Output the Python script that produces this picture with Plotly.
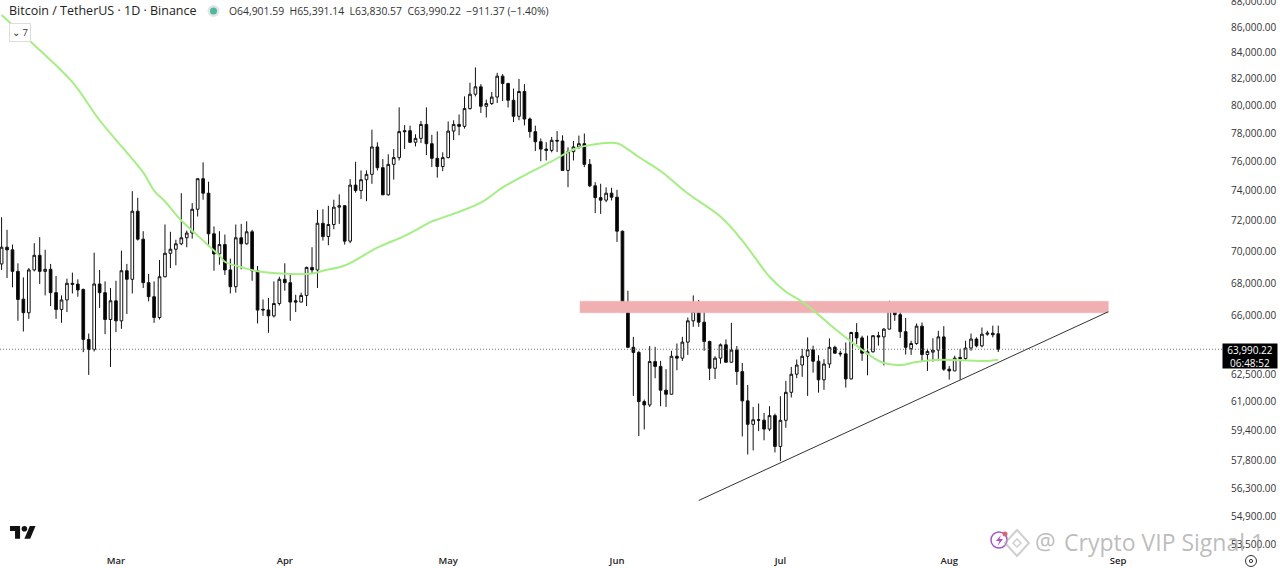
import math
import pandas as pd
import plotly.graph_objects as go

start_day = "2026-02-08"
opens = [
 69200,70270,70100,68730,67000,66170,68820,69750,68730,68860,
 67400,66370,66950,67980,67930,67600,64570,63980,67940,67400,
 65760,66900,65680,68770,68230,72630,70790,68020,67150,65880,
 68390,69880,70140,70490,70880,71190,72760,74830,73840,71140,
 69840,70440,68820,67770,70880,70490,71270,68770,66380,66340,
 65980,66730,68230,68020,66900,66820,67230,68980,68820,71830,
 70960,71750,72900,73000,70660,74390,74020,74760,75130,77040,
 75590,73730,75820,76290,78200,78200,77370,77650,78650,77270,
 76240,75670,76290,78170,78650,78510,79800,80860,81410,79970,
 80170,80650,82210,81660,80410,79240,81060,79040,78130,77410,
 76890,76800,77510,77460,75400,76710,77040,77270,75820,74340,
 73540,73370,73840,73570,71310,66660,64100,63800,60990,60800,
 63270,62990,61630,61400,63580,63470,64410,65680,66250,65600,
 64450,62880,63470,64250,63230,63940,62690,61030,59730,59980,
 59960,59470,60210,58530,59950,61510,62540,63070,63580,63960,
 63290,62220,63130,64100,63760,63720,62270,64980,64660,63720,
 63840,64790,64720,65180,66530,66050,65030,64020,64330,65360,
 63680,63820,63940,64720,62830,62730,63510,63450,64060,64590,
 64190,64880,64940,64901.59]
highs = [
 72230,71400,70440,69240,68350,68940,70530,70920,70100,69200,
 68440,67230,68270,68650,68230,67650,64920,69920,68820,68100,
 67690,68140,70050,69200,73980,73530,71310,68560,68100,69450,
 71750,71270,70750,73840,71350,73170,74830,75960,74620,71620,
 71310,71090,69540,71750,71790,71960,71400,69070,66980,67070,
 68100,68390,69240,68600,67270,67400,69030,70270,72720,72760,
 72990,73400,73760,73010,74800,76000,75400,75400,78270,77370,
 76190,76520,76890,79890,78600,78560,77940,78900,79890,77900,
 78150,76660,78860,78950,79370,80700,81710,82870,81610,80460,
 81030,82460,82360,81710,81280,82000,81610,79150,78560,77640,
 77380,77750,78170,77870,77010,77460,77850,78000,76190,74590,
 74480,74240,74210,74070,71350,67520,64720,63900,61100,64180,
 64130,63310,62830,63900,64330,64720,65880,67230,66950,66370,
 64490,63580,64330,64570,65560,64180,63190,61930,60690,60880,
 60360,60730,60320,61290,62160,62960,63390,64010,64690,64200,
 63640,63410,64630,64200,63900,64390,65020,65540,64790,64790,
 64800,65020,65250,66900,66700,66290,65850,64490,65520,65580,
 64010,64640,65080,65360,63020,63610,64010,64490,64920,64690,
 65280,65080,65390,65391.14]
lows = [
 68820,68310,67730,65680,65040,65800,68730,67940,67230,66580,
 65800,65560,66210,67350,67150,63820,62500,63860,66460,64880,
 62960,65000,65200,66090,67350,70700,67690,66860,65560,65760,
 68350,68940,69110,70400,70270,70830,72280,73400,70400,68770,
 69150,68510,67350,67400,68860,70440,68140,65520,65980,64960,
 65880,66610,67520,65680,66210,66800,66580,68560,67690,70700,
 70400,71440,71790,70440,70530,73880,73440,73300,74480,75400,
 73730,73680,74760,76090,76890,77320,77080,77320,76470,75630,
 74900,75350,76240,77520,77870,78350,79730,80700,79480,79150,
 80070,80210,80360,79880,78820,78950,78580,77700,76750,76040,
 76090,76660,76680,75400,74250,76090,76890,75630,74250,72500,
 72450,73230,73350,70610,66190,64090,61310,59090,59450,60690,
 62310,60730,60690,61390,62770,63310,63660,65320,65320,63900,
 62200,62270,63150,63230,63200,61930,59070,58100,58320,59360,
 58860,59360,58210,57750,59540,61220,62310,62390,61310,62630,
 61490,61650,62900,63730,63560,61780,62250,64290,63310,62480,
 63800,64200,63050,65170,65680,64660,63680,63660,64250,63310,
 62730,63270,63310,62730,62230,62730,62230,63310,63900,64100,
 64100,64790,64690,63830.57]
closes = [
 70270,70100,68730,66980,66170,68820,69750,68730,68860,67400,
 66370,66950,67980,67920,67570,64570,63980,67940,67400,65760,
 66900,65680,68770,68230,72630,70790,68020,67150,65880,68390,
 69880,70140,70490,70880,71190,72760,74830,73840,71140,69840,
 70440,68820,67770,70880,70490,71270,68770,66330,66340,65980,
 66730,68230,68020,66820,66820,67230,68980,68820,71830,70960,
 71750,72900,73000,70660,74390,74020,74760,75130,77040,75590,
 73730,75820,76290,78130,78130,77370,77650,78650,77270,76240,
 75670,76290,78170,78650,78510,79800,80860,81410,79970,80170,
 80650,82210,81660,80410,79240,81060,79040,78130,77410,76890,
 76800,77510,77460,75400,76710,77040,77270,75820,74340,73540,
 73370,73840,73570,71310,66660,64100,63800,60990,60800,63270,
 62990,61630,61400,63580,63470,64410,65680,66250,65600,64450,
 62880,63470,64250,63230,63940,62690,61030,59730,59980,59960,
 59470,60210,58530,59950,61510,62540,63070,63580,63960,63290,
 62220,63130,64100,63760,63720,62270,64980,64660,63760,63840,
 64790,64720,65180,66530,66050,65030,64100,64330,65360,63680,
 63860,63940,64720,62830,62730,63470,63450,64060,64590,64190,
 64880,64940,64850,63990.22]

ema_day_index = [0,5,13,18,26,28,30,33,36,40,41,44,47,52,57,59,63,69,74,79,80,88,92,97,101,105,108,
                 113,115,117,121,126,132,136,141,144,147,150,153,156,157,160,162,165,168,172,176,181,183]
ema_values = [86950,84980,81760,78950,75260,74020,73280,72010,71020,69730,69340,69000,68740,68580,68590,
              68770,69100,70240,71000,71950,72080,73210,74230,75260,76020,76870,77170,77300,76870,76330,
              75360,73820,72270,70700,68390,67460,66840,66050,65200,64430,64200,63510,63190,63070,63250,
              63370,63340,63310,63370]

last_price = 63990.22
band_dates = ["2026-05-25 05:00", "2026-08-30 05:00"]
band_prices = [66170, 66870]
trend_dates = ["2026-06-16", "2026-08-30 05:00"]
trend_prices = [55700, 66230]
price_ticks = [88000,86000,84000,82000,80000,78000,76000,74000,72000,70000,68000,66000,
               62500,61000,59400,57800,56300,54900,53500]
month_ticks = ["2026-03-01","2026-04-01","2026-05-01","2026-06-01","2026-07-01","2026-08-01","2026-09-01"]
month_labels = ["Mar","Apr","May","Jun","Jul","Aug","Sep"]
x_range = ["2026-02-07 17:00", "2026-09-20 02:00"]
y_range = [53470, 88160]

W, H, R, B = 1280, 568, 58, 23
PW, PH = W - R, H - B
FONT = "Open Sans"
px = lambda v: v / PW
py = lambda v: (PH - v) / PH

dates = pd.date_range(start_day, periods=len(opens))
ema_dates = [dates[i] for i in ema_day_index]

fig = go.Figure()
fig.add_trace(go.Scatter(x=[band_dates[0], band_dates[1], band_dates[1], band_dates[0], band_dates[0]],
                         y=[band_prices[0], band_prices[0], band_prices[1], band_prices[1], band_prices[0]],
                         mode="lines", fill="toself", fillcolor="#F0B0B2", line=dict(color="#F0B0B2", width=0.5)))
fig.add_trace(go.Scatter(x=x_range, y=[last_price, last_price], mode="lines",
                         line=dict(color="#777777", width=1, dash="1px 2px")))
fig.add_trace(go.Candlestick(x=dates, open=opens, high=highs, low=lows, close=closes, whiskerwidth=0,
                             increasing=dict(fillcolor="#FFFFFF", line=dict(color="#111111", width=1)),
                             decreasing=dict(fillcolor="#000000", line=dict(color="#111111", width=1))))
fig.add_trace(go.Scatter(x=ema_dates, y=ema_values, mode="lines",
                         line=dict(color="#A4EE84", width=2, shape="spline", smoothing=1.0)))
fig.add_trace(go.Scatter(x=trend_dates, y=trend_prices, mode="lines", line=dict(color="#333333", width=1)))

def note(x, y, text, size=10, color="#333333", xanchor="left", family=FONT, **kw):
    fig.add_annotation(xref="paper", yref="paper", x=px(x), y=py(y), text=text, showarrow=False,
                       xanchor=xanchor, yanchor="middle", font=dict(family=family, size=size, color=color), **kw)

note(7, 11, "Bitcoin / TetherUS · 1D · Binance", size=12.5, color="#222222")
note(227, 11, "O64,901.59  H65,391.14  L63,830.57  C63,990.22  −911.37 (−1.40%)", size=10.4, color="#333333")
note(9, 32, "⌄ 7", size=9.5, color="#333333", bordercolor="#DDDDDD", borderwidth=1, borderpad=2, bgcolor="#FFFFFF")
note(1222, 355.5, "63,990.22<br>06:48:52", size=10, color="#FFFFFF", bgcolor="#000000", width=54, height=24,
     borderpad=0, align="center")
note(1062, 542, "Crypto VIP Signal 1", size=23, color="rgba(150,150,150,0.65)")
note(1033, 541, "@", size=23, color="rgba(150,150,150,0.65)")

def circle(cx, cy, r, fill="rgba(0,0,0,0)", line="rgba(0,0,0,0)", width=1):
    fig.add_shape(type="circle", xref="paper", yref="paper", x0=px(cx - r), x1=px(cx + r),
                  y0=py(cy + r), y1=py(cy - r), fillcolor=fill, line=dict(color=line, width=width))

def path(points, fill="rgba(0,0,0,0)", line="rgba(0,0,0,0)", width=1, closed=True):
    d = "M" + " L".join(f"{px(a):.5f},{py(b):.5f}" for a, b in points) + (" Z" if closed else "")
    fig.add_shape(type="path", xref="paper", yref="paper", path=d, fillcolor=fill, line=dict(color=line, width=width))

circle(213.5, 11, 6, fill="#E2E4E6")
circle(213.5, 11, 3.5, fill="#4DB8A0")

# TradingView mark
s, ox, oy = 0.72, 10, 523
tv = lambda a, b: (ox + a * s, oy + b * s)
path([tv(14, 22), tv(7, 22), tv(7, 11), tv(0, 11), tv(0, 4), tv(14, 4)], fill="#111111")
path([tv(28, 22), tv(20, 22), tv(27.5, 4), tv(35.5, 4)], fill="#111111")
circle(*tv(20, 8), 2.8, fill="#111111")

# settings icon
circle(1251, 561, 5.5, line="#333333", width=1)
circle(1251, 561, 1.6, line="#333333", width=1)

# watermark badges
circle(999, 540, 8, line="#A855C8", width=1.5)
circle(1005, 534, 2.5, fill="#D46A6A")
path([(1001, 535), (996, 541), (999.5, 541), (997.5, 546), (1003, 539), (999.5, 539)], fill="#A855C8")
path([(1017, 530), (1029, 543), (1017, 556), (1005, 543)], line="rgba(175,175,175,0.6)", width=2)
path([(1017, 539), (1021, 543), (1017, 547), (1013, 543)], line="rgba(175,175,175,0.6)", width=1.5)

fig.update_layout(
    width=W, height=H, margin=dict(l=0, r=R, t=0, b=B, pad=0, autoexpand=False), showlegend=False,
    paper_bgcolor="#FFFFFF", plot_bgcolor="#FFFFFF", font=dict(family=FONT, color="#333333"),
    xaxis=dict(type="date", range=x_range, rangeslider=dict(visible=False), showgrid=False, zeroline=False,
               tickmode="array", tickvals=month_ticks, ticktext=month_labels, ticks="outside", ticklen=7,
               tickcolor="rgba(0,0,0,0)", showline=False,
               tickfont=dict(family=FONT, size=9.5, color="#222222", weight=600)),
    yaxis=dict(type="log", side="right", range=[math.log10(y_range[0]), math.log10(y_range[1])],
               showgrid=False, zeroline=False, tickmode="array", tickvals=price_ticks,
               ticktext=[f"{v:,.2f}" for v in price_ticks], ticks="outside", ticklen=6,
               ticklabeloverflow="allow", tickcolor="rgba(0,0,0,0)", showline=False,
               tickfont=dict(family=FONT, size=10, color="#333333")),
)
fig.write_html("out.html", config={"displayModeBar": False}, post_script="document.body.style.margin='0';")
